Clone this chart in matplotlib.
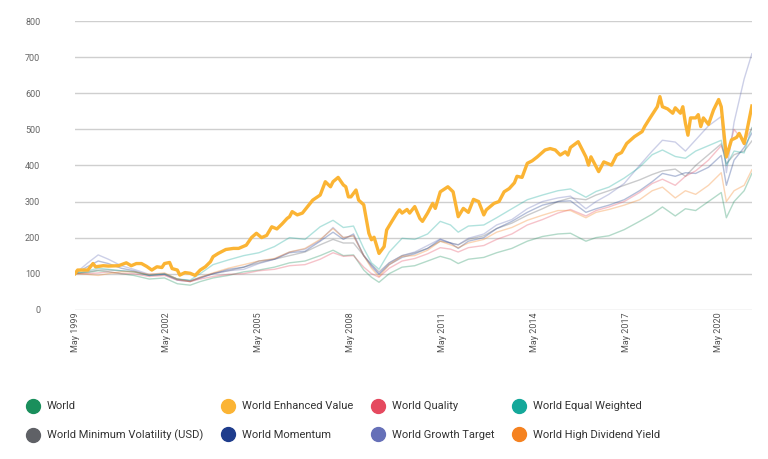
import matplotlib
matplotlib.use("Agg")
import matplotlib.pyplot as plt
from matplotlib.lines import Line2D
import pandas as pd

plt.rcParams['font.family'] = ['Roboto', 'DejaVu Sans']

# monthly sample points used for the faint index lines
months = ['1999-05', '1999-10', '2000-02', '2000-06', '2000-11', '2001-04', '2001-10', '2002-04',
          '2002-09', '2003-02', '2003-06', '2003-11', '2004-05', '2004-11', '2005-05', '2005-11',
          '2006-05', '2006-11', '2007-05', '2007-10', '2008-02', '2008-06', '2008-10', '2009-01',
          '2009-04', '2009-08', '2010-01', '2010-06', '2010-11', '2011-04', '2011-08', '2011-11',
          '2012-03', '2012-09', '2013-02', '2013-08', '2014-02', '2014-08', '2015-02', '2015-07',
          '2016-01', '2016-05', '2016-10', '2017-04', '2017-10', '2018-03', '2018-07', '2018-12',
          '2019-04', '2019-08', '2020-01', '2020-06', '2020-08', '2020-11', '2021-03', '2021-06']

world = [100, 103, 108, 105, 100, 95, 85, 88, 72, 68, 78, 88, 95, 105, 110, 118,
         130, 135, 150, 165, 150, 152, 110, 90, 76, 100, 118, 122, 135, 148, 140, 128,
         140, 145, 158, 170, 190, 203, 210, 212, 190, 200, 205, 222, 245, 265, 285, 260,
         280, 275, 300, 325, 255, 300, 330, 378]
quality = [100, 100, 102, 105, 100, 100, 92, 95, 82, 78, 85, 92, 98, 100, 108, 112,
           122, 125, 140, 158, 148, 150, 118, 100, 90, 115, 135, 142, 155, 172, 168, 160,
           172, 178, 195, 210, 235, 250, 268, 278, 260, 275, 285, 300, 325, 350, 362, 345,
           370, 385, 415, 455, 420, 500, 465, 503]
equal_weighted = [100, 108, 115, 112, 108, 105, 95, 100, 85, 82, 100, 125, 138, 150, 158, 175,
                  200, 195, 230, 248, 228, 232, 170, 130, 112, 160, 198, 195, 210, 245, 235, 215,
                  232, 235, 255, 280, 305, 318, 330, 335, 312, 328, 340, 365, 395, 430, 443, 425,
                  420, 440, 455, 470, 400, 440, 435, 505]
min_vol = [100, 105, 110, 110, 108, 105, 95, 98, 85, 80, 90, 100, 108, 118, 130, 140,
           150, 160, 180, 195, 185, 185, 150, 125, 105, 130, 150, 158, 170, 190, 185, 180,
           195, 205, 225, 240, 262, 280, 300, 310, 305, 318, 330, 345, 360, 375, 385, 390,
           370, 400, 430, 460, 405, 430, 440, 468]
momentum = [100, 120, 135, 128, 115, 108, 95, 98, 82, 78, 88, 100, 112, 118, 135, 140,
            158, 162, 190, 215, 195, 210, 150, 120, 98, 125, 145, 155, 170, 195, 185, 170,
            190, 200, 225, 245, 270, 290, 300, 302, 270, 280, 290, 305, 330, 355, 378, 370,
            380, 378, 395, 428, 345, 415, 450, 490]
growth_target = [100, 130, 152, 140, 122, 112, 98, 100, 85, 80, 88, 100, 108, 112, 128, 140,
                 160, 168, 192, 228, 200, 205, 150, 125, 100, 130, 150, 160, 178, 196, 185, 180,
                 198, 210, 235, 250, 280, 300, 310, 315, 280, 300, 320, 350, 400, 440, 470, 465,
                 440, 471, 510, 536, 380, 520, 640, 710]
high_dividend = [100, 98, 95, 100, 105, 105, 98, 102, 85, 78, 90, 102, 115, 125, 135, 142,
                 160, 170, 195, 225, 200, 205, 150, 115, 92, 125, 148, 150, 165, 190, 180, 172,
                 185, 195, 215, 228, 248, 262, 275, 275, 255, 270, 278, 290, 305, 330, 340, 310,
                 330, 320, 345, 380, 300, 330, 345, 388]

# the highlighted series, read in more detail
ev_months = ['1999-05', '1999-06', '1999-10', '1999-12', '2000-01', '2000-04', '2000-06', '2000-10',
             '2001-01', '2001-03', '2001-05', '2001-07', '2001-09', '2001-11', '2002-01', '2002-03',
             '2002-04', '2002-06', '2002-07', '2002-09', '2002-10', '2002-12', '2003-02', '2003-04',
             '2003-06', '2003-08', '2003-10', '2003-11', '2004-01', '2004-04', '2004-07', '2004-09',
             '2004-12', '2005-02', '2005-04', '2005-06', '2005-08', '2005-10', '2005-12', '2006-02',
             '2006-04', '2006-05', '2006-06', '2006-08', '2006-10', '2006-12', '2007-02', '2007-05',
             '2007-07', '2007-09', '2007-10', '2007-12', '2008-02', '2008-03', '2008-04', '2008-05',
             '2008-07', '2008-08', '2008-10', '2008-12', '2009-01', '2009-02', '2009-04', '2009-06',
             '2009-07', '2009-09', '2009-11', '2009-12', '2010-01', '2010-03', '2010-04', '2010-06',
             '2010-08', '2010-09', '2010-11', '2011-01', '2011-02', '2011-04', '2011-07', '2011-09',
             '2011-11', '2012-01', '2012-03', '2012-05', '2012-07', '2012-09', '2012-10', '2013-01',
             '2013-03', '2013-05', '2013-07', '2013-09', '2013-10', '2013-12', '2014-02', '2014-04',
             '2014-06', '2014-09', '2014-11', '2015-01', '2015-03', '2015-05', '2015-06', '2015-07',
             '2015-10', '2015-11', '2016-01', '2016-02', '2016-03', '2016-05', '2016-06', '2016-08',
             '2016-11', '2017-01', '2017-03', '2017-05', '2017-08', '2017-11', '2017-12', '2018-02',
             '2018-05', '2018-06', '2018-07', '2018-09', '2018-11', '2018-12', '2019-02', '2019-03',
             '2019-04', '2019-05', '2019-06', '2019-08', '2019-09', '2019-10', '2019-11', '2020-01',
             '2020-03', '2020-05', '2020-06', '2020-08', '2020-10', '2020-12', '2021-01', '2021-03',
             '2021-04', '2021-06']
enhanced_value = [100, 110, 110, 128, 119, 122, 121, 122, 130, 122, 128, 128, 120, 110, 119, 117,
                  128, 131, 114, 110, 96, 103, 101, 95, 110, 119, 133, 147, 156, 167, 170, 170,
                  179, 200, 212, 200, 206, 230, 224, 238, 253, 258, 272, 263, 268, 286, 304, 318,
                  355, 341, 355, 367, 346, 341, 313, 313, 332, 304, 291, 212, 194, 201, 156, 175,
                  221, 245, 268, 277, 268, 278, 268, 286, 253, 245, 268, 295, 281, 327, 341, 327,
                  258, 281, 270, 306, 300, 263, 277, 295, 300, 327, 336, 352, 370, 367, 406, 413,
                  424, 443, 447, 443, 429, 438, 429, 450, 466, 452, 424, 401, 424, 397, 383, 410,
                  401, 429, 436, 461, 480, 494, 508, 531, 563, 591, 563, 557, 545, 560, 545, 563,
                  517, 484, 532, 532, 541, 508, 532, 514, 554, 583, 563, 424, 471, 478, 489, 461,
                  494, 565]

faint = [
    ('World', world, '#1a8f5c'),
    ('World Minimum Volatility (USD)', min_vol, '#5f6166'),
    ('World Enhanced Value', None, '#fbb434'),
    ('World Momentum', momentum, '#1e3c8c'),
    ('World Quality', quality, '#e5495f'),
    ('World Growth Target', growth_target, '#6670b8'),
    ('World Equal Weighted', equal_weighted, '#14a89a'),
    ('World High Dividend Yield', high_dividend, '#f58220'),
]

dates = pd.to_datetime(months)
ev_dates = pd.to_datetime(ev_months)

fig = plt.figure(figsize=(7.68, 4.59), dpi=100)
ax = fig.add_axes([0.0977, 0.3253, 0.8813, 0.6283])

for name, vals, col in faint:
    if vals is not None:
        ax.plot(dates, vals, color=col, lw=1.0, alpha=0.33)
ax.plot(ev_dates, enhanced_value, color='#fbb434', lw=2.4, solid_joinstyle='round')

ax.set_ylim(0, 800)
ax.set_yticks(range(0, 801, 100))
ax.set_xlim(pd.Timestamp('1999-05-01'), pd.Timestamp('2021-06-01'))
ticks = [pd.Timestamp(f'{y}-05-01') for y in range(1999, 2021, 3)]
ax.set_xticks(ticks)
ax.set_xticklabels([f'May {t.year}' for t in ticks], rotation=90, va='top')
ax.grid(axis='y', color='#cfcfcf', lw=1.0)
ax.set_axisbelow(True)
for s in ax.spines.values():
    s.set_visible(False)
ax.tick_params(axis='y', length=0, pad=25, labelsize=6.5, labelcolor='#666666')
ax.tick_params(axis='x', length=0, pad=2, labelsize=6.5, labelcolor='#555555')

handles = [Line2D([], [], ls='none', marker='o', ms=10, color=c, label=n) for n, v, c in faint]
fig.legend(handles=handles, ncol=4, loc='upper left', bbox_to_anchor=(0.031, 0.135),
           frameon=False, fontsize=8, labelcolor='#333333', handlelength=0.8, handletextpad=0.85,
           columnspacing=1.85, labelspacing=1.65, borderaxespad=0)

fig.savefig('out.png', dpi=100)
